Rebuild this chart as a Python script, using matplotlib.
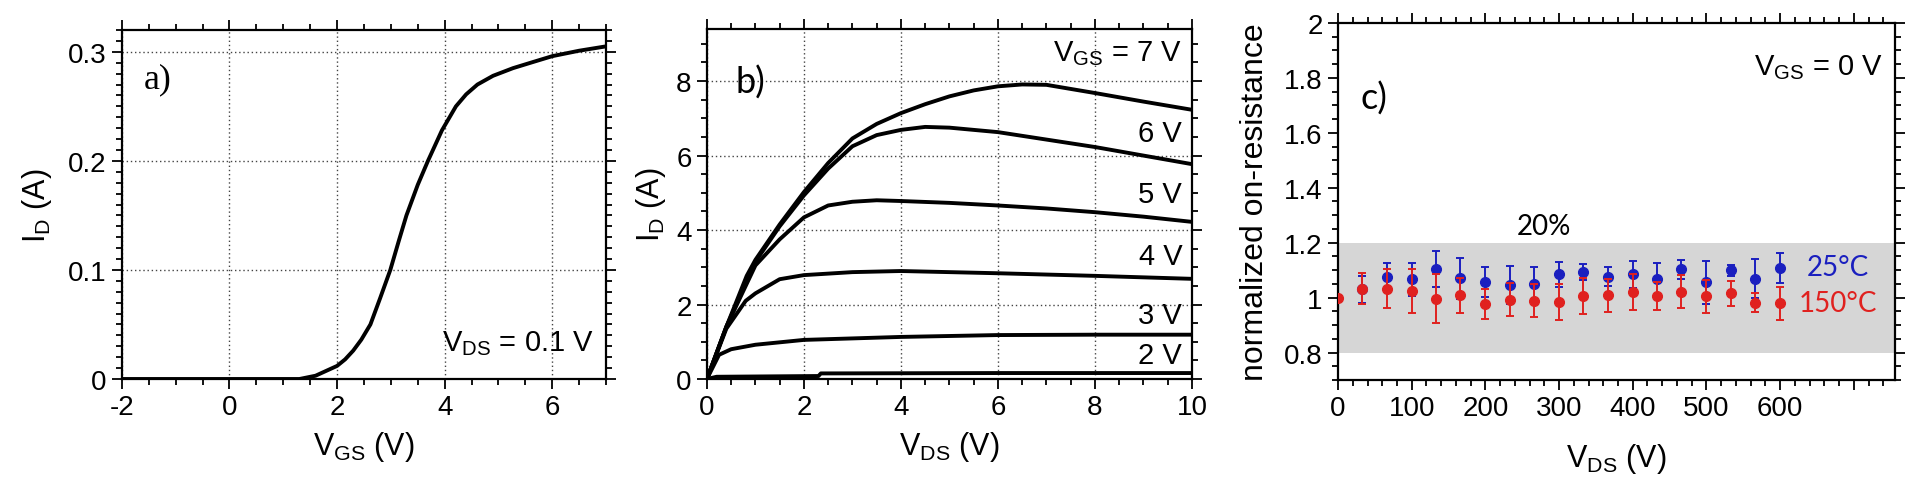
import matplotlib
matplotlib.use('Agg')
import matplotlib.pyplot as plt
from matplotlib.ticker import MultipleLocator

plt.rcParams['font.family'] = ['Liberation Sans', 'DejaVu Sans']
plt.rcParams['mathtext.default'] = 'regular'
plt.rcParams['axes.unicode_minus'] = False

# a) transfer curve, V_DS = 0.1 V
vgs_a = [-2, 1.3, 1.6, 2.0, 2.15, 2.3, 2.45, 2.62, 2.8, 2.99, 3.15, 3.29, 3.5, 3.69, 3.95,
         4.21, 4.4, 4.61, 4.9, 5.27, 5.6, 6.0, 6.5, 7.0]
id_a = [0, 0, 0.003, 0.012, 0.018, 0.026, 0.036, 0.05, 0.074, 0.1, 0.127, 0.15, 0.178, 0.2,
        0.228, 0.25, 0.261, 0.27, 0.278, 0.285, 0.29, 0.296, 0.301, 0.305]

# b) output curves
vds_7 = [0, 0.4, 0.82, 1.0, 1.5, 2.0, 2.5, 3.0, 3.5, 4.0, 4.5, 5.0, 5.5, 6.0, 6.5, 7.0, 8.0, 9.0, 10.0]
id_7 = [0, 1.4, 2.77, 3.2, 4.15, 5.02, 5.8, 6.46, 6.85, 7.14, 7.38, 7.59, 7.75, 7.86, 7.91, 7.9,
        7.68, 7.45, 7.23]
vds_6 = [0, 0.4, 1.0, 1.5, 2.0, 2.5, 3.0, 3.5, 4.0, 4.5, 5.0, 6.0, 7.0, 8.0, 9.0, 10.0]
id_6 = [0, 1.4, 3.15, 4.1, 4.93, 5.65, 6.25, 6.55, 6.69, 6.77, 6.75, 6.63, 6.43, 6.23, 6.0, 5.77]
vds_5 = [0, 0.4, 1.0, 1.5, 2.0, 2.5, 3.0, 3.5, 4.0, 5.0, 6.0, 7.0, 8.0, 9.0, 10.0]
id_5 = [0, 1.4, 3.05, 3.75, 4.34, 4.66, 4.76, 4.8, 4.78, 4.73, 4.66, 4.58, 4.48, 4.36, 4.22]
vds_4 = [0, 0.4, 0.8, 1.0, 1.5, 2.0, 3.0, 4.0, 6.0, 8.0, 10.0]
id_4 = [0, 1.35, 2.1, 2.3, 2.68, 2.79, 2.87, 2.9, 2.84, 2.77, 2.69]
vds_3 = [0, 0.25, 0.5, 1.0, 2.0, 4.0, 6.0, 8.0, 10.0]
id_3 = [0, 0.65, 0.8, 0.92, 1.05, 1.13, 1.18, 1.19, 1.19]
vds_2 = [0, 0.2, 2.3, 2.35, 6.0, 10.0]
id_2 = [0, 0.06, 0.08, 0.15, 0.16, 0.16]
curve_labels = ['6 V', '5 V', '4 V', '3 V', '2 V']
label_y = [6.6, 4.97, 3.3, 1.73, 0.65]

# c) normalized on-resistance vs V_DS
vds_c = [0, 33, 66, 100, 133, 166, 200, 233, 266, 300, 333, 366, 400, 433, 466, 500, 533, 566, 600]
r_25 = [1.0, 1.03, 1.076, 1.067, 1.103, 1.07, 1.057, 1.045, 1.048, 1.085, 1.093, 1.076, 1.085,
        1.067, 1.103, 1.055, 1.10, 1.069, 1.109]
e_25 = [0, 0.05, 0.05, 0.06, 0.065, 0.075, 0.055, 0.07, 0.065, 0.045, 0.03, 0.035, 0.05,
        0.06, 0.035, 0.08, 0.02, 0.07, 0.055]
r_150 = [1.0, 1.033, 1.033, 1.024, 0.996, 1.008, 0.976, 0.992, 0.988, 0.984, 1.006, 1.008,
         1.021, 1.006, 1.021, 1.004, 1.016, 0.982, 0.979]
e_150 = [0, 0.055, 0.07, 0.08, 0.09, 0.065, 0.055, 0.06, 0.06, 0.065, 0.065, 0.06, 0.065,
         0.05, 0.06, 0.06, 0.045, 0.035, 0.06]

TICK = 20
LAB = 22
grid_kw = dict(color='#444444', lw=1.0, ls=(0, (1, 2)))


def style_axes(ax):
    for s in ax.spines.values():
        s.set_linewidth(1.6)
    ax.tick_params(which='both', direction='out', top=True, right=True,
                   labelsize=TICK, width=1.3)
    ax.tick_params(which='major', length=7, pad=4)
    ax.tick_params(which='minor', length=4)


fig = plt.figure(figsize=(19.08, 4.89), dpi=100)

# panel a
ax1 = fig.add_axes([0.0639, 0.2229, 0.2537, 0.7137])
ax1.plot(vgs_a, id_a, color='black', lw=2.8)
ax1.set_xlim(-2, 7)
ax1.set_ylim(0, 0.32)
ax1.xaxis.set_major_locator(MultipleLocator(2))
ax1.xaxis.set_minor_locator(MultipleLocator(0.5))
ax1.yaxis.set_major_locator(MultipleLocator(0.1))
ax1.yaxis.set_minor_locator(MultipleLocator(0.01))
ax1.set_yticks([0, 0.1, 0.2, 0.3])
ax1.set_yticklabels(['0', '0.1', '0.2', '0.3'])
ax1.grid(True, which='major', **grid_kw)
style_axes(ax1)
ax1.set_xlabel('V$_{GS}$ (V)', fontsize=LAB, labelpad=6)
ax1.set_ylabel('I$_{D}$ (A)', fontsize=LAB, labelpad=10)
ax1.text(-1.6, 0.275, 'a)', fontsize=26, family=['Liberation Serif'], va='center')
ax1.text(3.95, 0.033, 'V$_{DS}$ = 0.1 V', fontsize=21, va='center')

# panel b
ax2 = fig.add_axes([0.3705, 0.2229, 0.2542, 0.7158])
for vx, iy in [(vds_7, id_7), (vds_6, id_6), (vds_5, id_5), (vds_4, id_4),
               (vds_3, id_3), (vds_2, id_2)]:
    ax2.plot(vx, iy, color='black', lw=2.8)
ax2.set_xlim(0, 10)
ax2.set_ylim(0, 9.4)
ax2.xaxis.set_major_locator(MultipleLocator(2))
ax2.xaxis.set_minor_locator(MultipleLocator(0.5))
ax2.yaxis.set_major_locator(MultipleLocator(2))
ax2.yaxis.set_minor_locator(MultipleLocator(0.5))
ax2.grid(True, which='major', **grid_kw)
style_axes(ax2)
ax2.set_xlabel('V$_{DS}$ (V)', fontsize=LAB, labelpad=6)
ax2.set_ylabel('I$_{D}$ (A)', fontsize=LAB, labelpad=6)
ax2.text(0.58, 8.0, 'b)', fontsize=26, family=['Lato', 'DejaVu Sans'], va='center')
ax2.text(9.8, 8.76, 'V$_{GS}$ = 7 V', fontsize=21, va='center', ha='right')
for lab, yy in zip(curve_labels, label_y):
    ax2.text(9.8, yy, lab, fontsize=21, va='center', ha='right')

# panel c
blue = '#1a1fbf'
red = '#e0211f'
ax3 = fig.add_axes([0.7013, 0.2209, 0.2919, 0.7301])
ax3.axhspan(0.8, 1.2, color='#d6d6d6', lw=0, zorder=0)
ax3.errorbar(vds_c[1:], r_25[1:], yerr=e_25[1:], fmt='o', color=blue, ms=7,
             elinewidth=1.4, capsize=3, capthick=1.4, zorder=3)
ax3.errorbar(vds_c, r_150, yerr=e_150, fmt='o', color=red, ms=7,
             elinewidth=1.4, capsize=3, capthick=1.4, zorder=4)
ax3.set_xlim(0, 756)
ax3.set_ylim(0.7, 2.0)
ax3.set_xticks(range(0, 701, 100))
ax3.set_xticklabels(['0', '100', '200', '300', '400', '500', '600', ''])
ax3.xaxis.set_minor_locator(MultipleLocator(20))
ax3.set_yticks([0.8, 1.0, 1.2, 1.4, 1.6, 1.8, 2.0])
ax3.set_yticklabels(['0.8', '1', '1.2', '1.4', '1.6', '1.8', '2'])
ax3.yaxis.set_minor_locator(MultipleLocator(0.05))
style_axes(ax3)
ax3.set_xlabel('V$_{DS}$ (V)', fontsize=LAB, labelpad=14)
ax3.set_ylabel('normalized on-resistance', fontsize=23, labelpad=10)
ax3.text(30, 1.73, 'c)', fontsize=26, family=['Lato', 'DejaVu Sans'], va='center')
ax3.text(280, 1.26, '20%', fontsize=20, family=['Lato', 'DejaVu Sans'], ha='center', va='center')
ax3.text(678, 1.11, '25°C', fontsize=20, color=blue, family=['Lato', 'DejaVu Sans'],
         ha='center', va='center')
ax3.text(678, 0.98, '150°C', fontsize=20, color=red, family=['Lato', 'DejaVu Sans'],
         ha='center', va='center')
ax3.text(740, 1.84, 'V$_{GS}$ = 0 V', fontsize=21, ha='right', va='center')

fig.savefig('out.png', dpi=100)
